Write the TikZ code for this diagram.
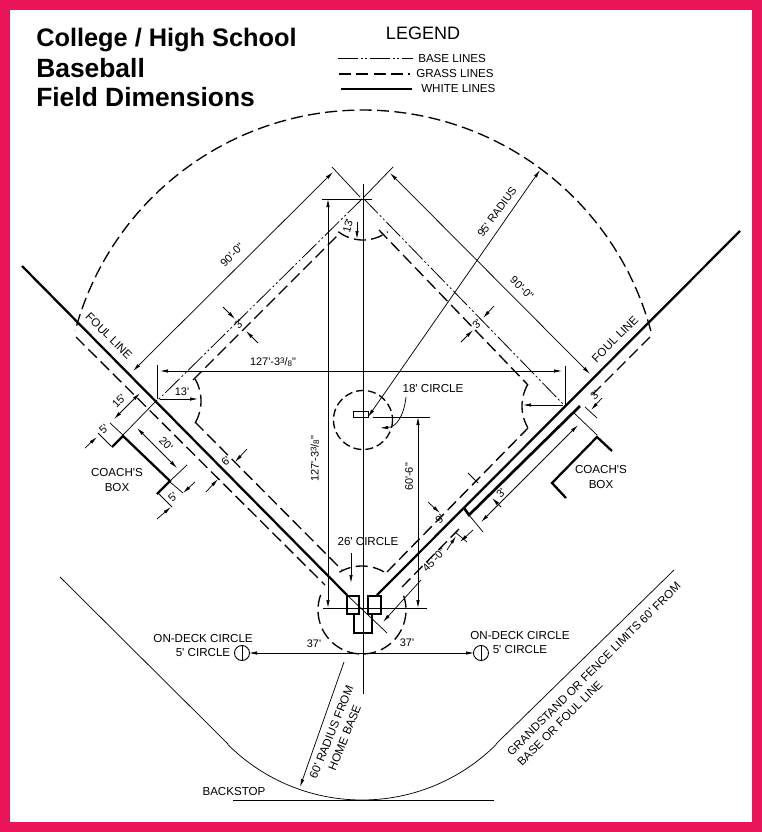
\documentclass[tikz,border=0pt]{standalone}
\usepackage{fontspec}
\newfontfamily\labfont{Liberation Sans}
\usetikzlibrary{arrows.meta}
\definecolor{framered}{HTML}{EA1558}
\tikzset{
    thinln/.style={line width=.55pt},
    grassln/.style={line width=1pt,dash pattern=on 9pt off 4pt},
    baseln/.style={line width=.6pt,dash pattern=on 15pt off 2pt on 1.5pt off 2pt on 1.5pt off 2pt},
    whiteln/.style={line width=1.7pt},
    lab/.style={font=\labfont\fontsize{8.7pt}{10.8pt}\selectfont,inner sep=0pt,align=center},
    dimlab/.style={font=\labfont\fontsize{8.2pt}{10pt}\selectfont,inner sep=0pt},
    head/.style={font=\labfont\bfseries\fontsize{19.8pt}{22pt}\selectfont,inner sep=0pt,anchor=west}
}
\def\frc{\raisebox{.4ex}{\fontsize{6pt}{6pt}\selectfont 3}/\raisebox{-.1ex}{\fontsize{6pt}{6pt}\selectfont 8}}
\begin{document}
\begin{tikzpicture}[x=.75pt,y=-.75pt,>={Latex[length=6pt,width=2.6pt]}]
    \useasboundingbox (0,0) rectangle (762,832);
    \fill[framered] (0,0) rectangle (762,832);
    \fill[white] (10,10) rectangle (752,822);

% Title and legend
    \node[head,font=\labfont\bfseries\fontsize{19pt}{22pt}\selectfont] (title1) at (36,40) {College / High School};
    \node[head] (title2) at (36,68) {Baseball};
    \node[head] (title3) at (36,97) {Field Dimensions};
    \node[lab,font=\labfont\fontsize{13.5pt}{15pt}\selectfont] (legend) at (423,33) {LEGEND};
    \draw[baseln] (338,58) -- (413,58);
    \draw[grassln] (339,74) -- (410,74);
    \draw[whiteln] (341,89) -- (412,89);
    \node[lab,anchor=west] (legbase) at (418,59) {BASE LINES};
    \node[lab,anchor=west] (leggrass) at (416,74) {GRASS LINES};
    \node[lab,anchor=west] (legwhite) at (421,89) {WHITE LINES};

% Foul lines and boxes
    \draw[whiteln] (22,266) -- (347,595);
    \draw[whiteln] (377,595) -- (740,231);
    \draw[whiteln] (612,451) -- (597,437) -- (552,483) -- (566,498);
    \draw[whiteln] (112,447) -- (123,436) -- (170,481) -- (157,494);
    \draw[line width=2pt] (580,406) -- (469,515) -- (464,508);
    \draw[line width=1.3pt] (347,596) rectangle (359,614);
    \draw[line width=1.3pt] (368,596) rectangle (381,614);
    \draw[line width=1.3pt] (354,615) -- (354,633) -- (372,633) -- (372,615);

% Base lines
    \draw[baseln] (362,199) -- (157,401);
    \draw[baseln] (364,199) -- (565,406);

% Grass lines
    \draw[grassln,domain=15:165,samples=100] plot ({363+298*cos(\x)},{408-298*sin(\x)});
    \draw[grassln] (76,337) -- (325,585);
    \draw[grassln] (650,337) -- (590,397);
    \draw[grassln] (402,587) -- (460,528);
    \draw[grassln] (193,380) -- (338,235);
    \draw[grassln] (379,230) -- (528,385);
    \draw[grassln] (195,422) -- (342,570);
    \draw[grassln] (387,572) -- (528,428);
    \draw[grassln,domain=233:307,samples=30] plot ({363+41*cos(\x)},{199-41*sin(\x)});
    \draw[grassln,domain=-30:30,samples=30] plot ({157+44*cos(\x)},{401-44*sin(\x)});
    \draw[grassln,domain=150:210,samples=30] plot ({565+43*cos(\x)},{406-43*sin(\x)});

% Circles
    \draw[grassln,dash pattern=on 6pt off 3pt] (363,420) circle (29.5);
    \draw[grassln,domain=-200:20,samples=80] plot ({362+44*cos(\x)},{610-44*sin(\x)});
    \draw[grassln,domain=60:122,samples=30] plot ({362+44*cos(\x)},{610-44*sin(\x)});
    \draw[line width=.7pt] (353,411) rectangle (368,417);
    \draw[line width=.7pt] (242,653) circle (7.5);
    \draw[thinln] (242,645.5) -- (242,660.5);
    \draw[line width=.7pt] (481,653) circle (7.5);
    \draw[thinln] (481,645.5) -- (481,660.5);

% Center lines and 127 dims
    \draw[thinln] (363,184) -- (363,694);
    \draw[thinln] (322,199) -- (372,199);
    \draw[thinln] (323,608) -- (427,608);
    \draw[thinln,<->] (328,199) -- (328,608);
    \draw[thinln,<->] (160,371) -- (562,371);
    \draw[thinln] (157,365) -- (157,399);
    \draw[thinln] (565,366) -- (565,405);
    \node[dimlab] (horz) at (273,362) {127'-3\frc"};
    \node[dimlab,rotate=90] (vert) at (315,459) {127'-3\frc"};

% 90 ft
    \draw[thinln] (332,167) -- (360,197);
    \draw[thinln] (393,167) -- (364,197);
    \draw[thinln,<->] (333,172) -- (133,371);
    \draw[thinln,<->] (390,173) -- (590,374);
    \node[dimlab,rotate=45] (nineL) at (232,255) {90'-0"};
    \node[dimlab,rotate=-45] (nineR) at (522,288) {90'-0"};

% Radius and pitching
    \draw[thinln,<->] (368,417) -- (540,170);
    \node[dimlab,rotate=54] (radius) at (497,212) {95' RADIUS};
    \draw[thinln] (373,417) -- (430,417);
    \draw[thinln,<->] (418,417) -- (418,608);
    \node[dimlab,rotate=90] (sixty) at (409,477) {60'-6"};
    \node[lab] (ecircle) at (433,389) {18' CIRCLE};
    \draw[thinln,->] (406,397) .. controls (404,415) and (397,427) .. (380,428);

% 13 ft
    \draw[thinln,->] (160,399) -- (198,399);
    \node[dimlab] (thirL) at (182,392) {13'};
    \draw[thinln,->] (563,405) -- (523,405);
    \draw[thinln,->] (357,222) -- (357,239);
    \node[dimlab,rotate=75] (thirT) at (348,226) {13'};

% Left dims
    \node[lab,rotate=-45] (foulL) at (109,336) {FOUL LINE};
    \node[lab] (coachL) at (117,480) {COACH'S\\BOX};
    \draw[thinln,<->] (140,393) -- (114,419);
    \node[dimlab,rotate=45] (fifteen) at (119,401) {15'};
    \draw[thinln] (123,435) -- (157,400);
    \draw[thinln] (98,433) -- (111,446);
    \draw[thinln] (110,423) -- (123,435);
    \draw[thinln,->] (85,448) -- (97,437);
    \node[dimlab,rotate=45] (fiveA) at (104,429) {5'};
    \draw[thinln,<->] (137,428) -- (177,468);
    \node[dimlab,rotate=-45] (twenty) at (166,444) {20'};
    \draw[thinln] (187,465) -- (170,481);
    \draw[thinln] (170,482) -- (183,493);
    \draw[thinln] (159,494) -- (172,507);
    \draw[thinln,->] (195,482) -- (183,493);
    \draw[thinln,->] (157,519) -- (171,507);
    \node[dimlab,rotate=45] (fiveB) at (173,497) {5'};
    \draw[thinln,->] (247,449) -- (235,462);
    \draw[thinln,->] (206,492) -- (218,479);
    \node[dimlab,rotate=45] (sixft) at (226,461) {6'};
    \draw[thinln,->] (223,307) -- (235,319);
    \draw[thinln,->] (258,343) -- (246,331);
    \node[dimlab,rotate=45] (threeL) at (239,324) {3'};

% Right dims
    \node[lab,rotate=45] (foulR) at (615,339) {FOUL LINE};
    \node[lab] (coachR) at (601,477) {COACH'S\\BOX};
    \draw[thinln,->] (494,306) -- (483,318);
    \draw[thinln,->] (461,342) -- (473,330);
    \node[dimlab,rotate=45] (threeR) at (477,324) {3'};
    \node[dimlab,rotate=45] (threeS) at (595,395) {3'};
    \draw[thinln,->] (602,398) -- (591,410);
    \draw[thinln] (585,407) -- (597,418);
    \draw[thinln] (573,412) -- (597,435);
    \node[dimlab,rotate=45] (threeM) at (501,493) {3'};
    \draw[thinln,->] (501,507) -- (492,498);
    \draw[thinln] (469,515) -- (483,532);
    \draw[thinln,<->] (578,425) -- (481,522);
    \draw[thinln] (468,473) -- (478,483);
    \draw[thinln,->] (428,502) -- (440,513);
    \node[dimlab,rotate=45] (nineft) at (440,519) {9'};
    \draw[thinln] (455,532) -- (467,542);
    \draw[thinln,->] (473,530) -- (460,542);
    \draw[thinln,->] (421,580) -- (383,622);
    \draw[thinln,->] (447,550) -- (456,536);
    \node[dimlab,rotate=45] (forty) at (434,560) {45'-0"};

% Home plate
    \draw[thinln] (347,595) -- (387,633);
    \node[lab] (twentysix) at (368,541) {26' CIRCLE};
    \draw[thinln,->] (351,553) -- (351,583);
    \draw[thinln,<->] (249,653) -- (474,653);
    \node[dimlab] (sevenL) at (314,644) {37'};
    \node[dimlab] (sevenR) at (407,643) {37'};
    \node[lab,anchor=east] (deckL) at (253,638) {ON-DECK CIRCLE};
    \node[lab] (deckLb) at (203,652) {5' CIRCLE};
    \node[lab] (deckR) at (520,635) {ON-DECK CIRCLE};
    \node[lab] (deckRb) at (520,649) {5' CIRCLE};

% Backstop
    \draw[thinln] (60,577) -- (228,744);
    \draw[thinln,domain=225:315,samples=60] plot ({362+190*cos(\x)},{610-190*sin(\x)});
    \draw[thinln] (496,744) -- (674,570);
    \draw[thinln] (233,800) -- (494,800);
    \node[lab] (backstop) at (234,791) {BACKSTOP};
    \draw[thinln,->] (344,662) -- (300,787);
    \node[lab,rotate=68] (sixtyrad) at (338,735) {60' RADIUS FROM\\HOME BASE};
    \node[lab,rotate=45,align=left] (fence) at (599,674) {GRANDSTAND OR FENCE LIMITS 60' FROM\\BASE OR FOUL LINE};
\end{tikzpicture}
\end{document}
